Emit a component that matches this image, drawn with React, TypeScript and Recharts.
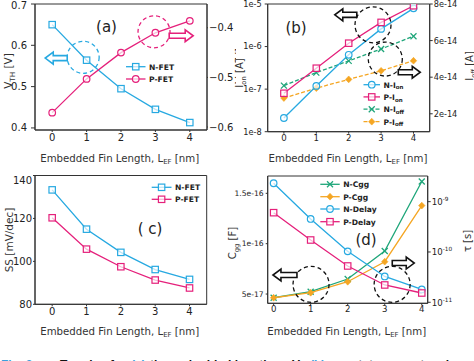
import React from 'react';
import { LineChart, Line, XAxis, YAxis, ReferenceDot, ReferenceArea } from 'recharts';

// ---------- data ----------
const LEF = [0, 1, 2, 3, 4];
const vthN = [0.65, 0.564, 0.495, 0.445, 0.413];
const vthP = [-0.571, -0.503, -0.45, -0.41, -0.386];
const ionN = [2.1e-8, 1.19e-7, 6.4e-7, 2.6e-6, 7.9e-6];
const ionP = [8e-8, 3.1e-7, 1.2e-6, 3.7e-6, 9.1e-6];
const ioffN = [3.54e-14, 4.25e-14, 4.89e-14, 5.54e-14, 6.24e-14];
const ioffP = [2.86e-14, 3.4e-14, 3.88e-14, 4.35e-14, 4.9e-14];
const ssN = [133.3, 115, 104.2, 96.2, 91.6];
const ssP = [120.3, 105.7, 97.5, 91.3, 87.6];
const cggN = [4.63e-17, 5.23e-17, 6.49e-17, 9.27e-17, 1.617e-16];
const cggP = [4.63e-17, 5.13e-17, 6.22e-17, 8.21e-17, 1.378e-16];
const delayN = [2.32e-9, 4.53e-10, 1.03e-10, 3.26e-11, 1.8e-11];
const delayP = [6.04e-10, 1.73e-10, 5.27e-11, 2.21e-11, 1.53e-11];

// tick values
const vthTicks = [0.4, 0.5, 0.6, 0.7];
const vthPTicks = [-0.6, -0.5, -0.4];
const ionTicks = [1e-8, 1e-7, 1e-6, 1e-5];
const ioffTicks = [2e-14, 4e-14, 6e-14, 8e-14];
const ssTicks = [80, 100, 120, 140];
const cggTicks = [5e-17, 1e-16, 1.5e-16];
const cggLabels = ['5e-17', '1e-16', '1.5e-16'];
const tauTicks = [1e-11, 1e-10, 1e-9];

const dataA = LEF.map((x, i) => ({ x, n: vthN[i], p: vthP[i] }));
const dataB = LEF.map((x, i) => ({ x, nOn: ionN[i], pOn: ionP[i], nOff: ioffN[i], pOff: ioffP[i] }));
const dataC = LEF.map((x, i) => ({ x, n: ssN[i], p: ssP[i] }));
const dataD = LEF.map((x, i) => ({ x, nC: cggN[i], pC: cggP[i], nD: delayN[i], pD: delayP[i] }));

// ---------- styles ----------
const FONT = 'DejaVu Sans, sans-serif';
const AX = '#333';
const TXT = '#222';
const CYAN = '#27a9e1';
const MAG = '#e5207b';
const GREEN = '#1fa67a';
const ORANGE = '#f5a623';

type Kind = 'sq' | 'ci' | 'x' | 'di';

function Marker({ kind, cx, cy, color }: { kind: Kind; cx: number; cy: number; color: string }) {
  if (kind === 'sq')
    return <rect x={cx - 3.2} y={cy - 3.2} width={6.4} height={6.4} fill="#fff" fillOpacity={0.7} stroke={color} strokeWidth={1.2} />;
  if (kind === 'ci') return <circle cx={cx} cy={cy} r={3.3} fill="#fff" fillOpacity={0.7} stroke={color} strokeWidth={1.2} />;
  if (kind === 'x')
    return (
      <g stroke={color} strokeWidth={1.3}>
        <line x1={cx - 3} y1={cy - 3} x2={cx + 3} y2={cy + 3} />
        <line x1={cx - 3} y1={cy + 3} x2={cx + 3} y2={cy - 3} />
      </g>
    );
  return <polygon points={`${cx},${cy - 3.4} ${cx + 3.2},${cy} ${cx},${cy + 3.4} ${cx - 3.2},${cy}`} fill={color} stroke={color} strokeWidth={0.6} />;
}

const dot = (kind: Kind, color: string) => (props: any) => {
  const { cx, cy, index } = props;
  const key = `${kind}-${color}-${index}`;
  if (cx == null || cy == null) return <g key={key} />;
  return (
    <g key={key}>
      <Marker kind={kind} cx={cx} cy={cy} color={color} />
    </g>
  );
};

const ring = (r: number, color: string) => (p: any) => (
  <circle cx={p.cx} cy={p.cy} r={r} fill="none" stroke={color} strokeWidth={1.3} strokeDasharray="4 3" />
);

const arrow = (dir: 'l' | 'r', color: string, L = 22, H = 12) => (p: any) => {
  const { cx, cy } = p;
  const head = 8;
  const h = H * 0.42;
  const s = dir === 'l' ? -1 : 1;
  const tip = cx + (s * L) / 2;
  const tail = cx - (s * L) / 2;
  const neck = tip - s * head;
  const d = `M${tail},${cy - h / 2} L${neck},${cy - h / 2} L${neck},${cy - H / 2} L${tip},${cy} L${neck},${cy + H / 2} L${neck},${cy + h / 2} L${tail},${cy + h / 2} Z`;
  return <path d={d} fill="#fff" stroke={color} strokeWidth={1.6} strokeLinejoin="miter" />;
};

const tickStyle = (fs: number) => ({ fontSize: fs, fill: TXT, fontFamily: FONT });
const minus = (s: string) => s.replace('-', '\u2212');

const TauTick = (props: any) => {
  const { x, y, payload } = props;
  const e = Math.round(Math.log10(payload.value));
  return (
    <text x={x} y={y} dy="0.4em" textAnchor="start" fontSize={8.6} fill={TXT} fontFamily={FONT}>
      10
      <tspan dy={-4} fontSize={5.8}>
        {e}
      </tspan>
    </text>
  );
};

// ---------- overlay helpers ----------
function LegendRow({ x1, x2, y, color, kind, dashed, main, sub }: any) {
  return (
    <g>
      <line x1={x1} x2={x2} y1={y} y2={y} stroke={color} strokeWidth={1.3} strokeDasharray={dashed ? '4 2' : undefined} />
      <Marker kind={kind} cx={(x1 + x2) / 2} cy={y} color={color} />
      <text x={x2 + 3.5} y={y + 2.8} fontSize={7.6} fontWeight="bold" fill={TXT} fontFamily={FONT}>
        {main}
        {sub ? (
          <tspan dy={1.8} fontSize={5.5}>
            {sub}
          </tspan>
        ) : null}
      </text>
    </g>
  );
}

function XTitle({ cx, y }: { cx: number; y: number }) {
  return (
    <text x={cx} y={y} textAnchor="middle" fontSize={10.2} fill="#333" fontFamily={FONT}>
      Embedded Fin Length, L<tspan dy={2} fontSize={7}>EF</tspan>
      <tspan dy={-2}> [nm]</tspan>
    </text>
  );
}

function YTitle({ x, y, main, sub, unit, fs = 10.5 }: any) {
  return (
    <text transform={`translate(${x},${y}) rotate(-90)`} textAnchor="middle" fontSize={fs} fill="#333" fontFamily={FONT}>
      {main}
      {sub ? (
        <tspan dy={2.5} fontSize={fs * 0.68}>
          {sub}
        </tspan>
      ) : null}
      <tspan dy={sub ? -2.5 : 0}> {unit}</tspan>
    </text>
  );
}

const legA = [
  { color: CYAN, kind: 'sq', main: 'N-FET', y: 66.7 },
  { color: MAG, kind: 'ci', main: 'P-FET', y: 79 },
];
const legB = [
  { color: CYAN, kind: 'ci', main: 'N-I', sub: 'on', y: 84.7 },
  { color: MAG, kind: 'sq', main: 'P-I', sub: 'on', y: 96.9 },
  { color: GREEN, kind: 'x', main: 'N-I', sub: 'off', y: 109.2, dashed: true },
  { color: ORANGE, kind: 'di', main: 'P-I', sub: 'off', y: 121.7, dashed: true },
];
const legC = [
  { color: CYAN, kind: 'sq', main: 'N-FET', y: 187.3 },
  { color: MAG, kind: 'sq', main: 'P-FET', y: 199.3 },
];
const legD = [
  { color: GREEN, kind: 'x', main: 'N-Cgg', y: 184.3 },
  { color: ORANGE, kind: 'di', main: 'P-Cgg', y: 196.7 },
  { color: CYAN, kind: 'ci', main: 'N-Delay', y: 209 },
  { color: MAG, kind: 'sq', main: 'P-Delay', y: 221.7 },
];

const xAxisCommon = {
  dataKey: 'x',
  type: 'number' as const,
  domain: [-0.5, 4.5],
  ticks: LEF,
  allowDataOverflow: true,
  stroke: AX,
  tickSize: 2,
  tickMargin: 2,
};

export default function App() {
  return (
    <div style={{ position: 'absolute', left: 0, top: 0, width: 474, height: 361, background: '#fff', overflow: 'hidden' }}>
      {/* (a) */}
      <div style={{ position: 'absolute', left: 0, top: 0 }}>
        <LineChart width={237} height={175} data={dataA} margin={{ top: 4, right: 0, bottom: 0, left: 0 }}>
          <XAxis xAxisId="b" {...xAxisCommon} height={45} tick={tickStyle(10)} />
          <YAxis yAxisId="l" type="number" domain={[0.395, 0.7]} ticks={vthTicks} allowDataOverflow width={35} stroke={AX} tick={tickStyle(10)} tickSize={4} tickMargin={4} tickFormatter={(v: number) => v.toFixed(1)} />
          <YAxis yAxisId="r" orientation="right" type="number" domain={[-0.606, -0.352]} ticks={vthPTicks} allowDataOverflow width={30} stroke={AX} tick={tickStyle(10)} tickSize={1} tickMargin={1} tickFormatter={(v: number) => minus(v.toFixed(1))} />
          <ReferenceArea xAxisId="b" yAxisId="l" x1={-0.5} x2={4.5} y1={0.395} y2={0.7} fill="none" stroke={AX} strokeWidth={1} />
          <ReferenceDot xAxisId="b" yAxisId="l" x={0.9} y={0.571} r={16} shape={ring(16, CYAN)} />
          <ReferenceDot xAxisId="b" yAxisId="l" x={0.117} y={0.569} r={10} shape={arrow('l', CYAN)} />
          <ReferenceDot xAxisId="b" yAxisId="r" x={2.96} y={-0.408} r={16} shape={ring(16, MAG)} />
          <ReferenceDot xAxisId="b" yAxisId="r" x={3.75} y={-0.416} r={10} shape={arrow('r', MAG, 24)} />
          <Line xAxisId="b" yAxisId="l" dataKey="n" stroke={CYAN} strokeWidth={1.3} dot={dot('sq', CYAN)} isAnimationActive={false} />
          <Line xAxisId="b" yAxisId="r" dataKey="p" stroke={MAG} strokeWidth={1.3} dot={dot('ci', MAG)} isAnimationActive={false} />
        </LineChart>
      </div>

      {/* (b) */}
      <div style={{ position: 'absolute', left: 230, top: 0 }}>
        <LineChart width={244} height={175} data={dataB} margin={{ top: 4, right: 0, bottom: 0, left: 0 }}>
          <XAxis xAxisId="b" {...xAxisCommon} height={43.3} tick={tickStyle(8.6)} tickMargin={1} />
          <YAxis yAxisId="l" type="number" scale="log" domain={[1e-8, 1e-5]} ticks={ionTicks} allowDataOverflow width={37.7} stroke={AX} tick={tickStyle(8.2)} tickSize={3} tickMargin={3} tickFormatter={(v: number) => `1e${Math.round(Math.log10(v))}`} />
          <YAxis yAxisId="r" orientation="right" type="number" domain={[1.02e-14, 8e-14]} ticks={ioffTicks} allowDataOverflow width={44.3} stroke={AX} tick={tickStyle(8.2)} tickSize={3} tickMargin={1} tickFormatter={(v: number) => `${Math.round(v * 1e14)}e-14`} />
          <ReferenceArea xAxisId="b" yAxisId="l" x1={-0.5} x2={4.5} y1={1e-8} y2={1e-5} fill="none" stroke={AX} strokeWidth={1} />
          <ReferenceDot xAxisId="b" yAxisId="l" x={2.75} y={Math.pow(10, -5.49)} r={18} shape={ring(18, '#111')} />
          <ReferenceDot xAxisId="b" yAxisId="l" x={1.91} y={Math.pow(10, -5.254)} r={10} shape={arrow('l', '#111', 22, 12)} />
          <ReferenceDot xAxisId="b" yAxisId="r" x={3.13} y={4.99e-14} r={17} shape={ring(17, '#111')} />
          <ReferenceDot xAxisId="b" yAxisId="r" x={3.87} y={4.27e-14} r={10} shape={arrow('r', '#111', 22, 12)} />
          <Line xAxisId="b" yAxisId="r" dataKey="nOff" stroke={GREEN} strokeWidth={1.3} strokeDasharray="4 2" dot={dot('x', GREEN)} isAnimationActive={false} />
          <Line xAxisId="b" yAxisId="r" dataKey="pOff" stroke={ORANGE} strokeWidth={1.3} strokeDasharray="4 2" dot={dot('di', ORANGE)} isAnimationActive={false} />
          <Line xAxisId="b" yAxisId="l" dataKey="nOn" stroke={CYAN} strokeWidth={1.3} dot={dot('ci', CYAN)} isAnimationActive={false} />
          <Line xAxisId="b" yAxisId="l" dataKey="pOn" stroke={MAG} strokeWidth={1.3} dot={dot('sq', MAG)} isAnimationActive={false} />
        </LineChart>
      </div>

      {/* (c) */}
      <div style={{ position: 'absolute', left: 0, top: 175 }}>
        <LineChart width={237} height={186} data={dataC} margin={{ top: 0.5, right: 30.3, bottom: 0, left: 0 }}>
          <XAxis xAxisId="b" {...xAxisCommon} height={56.7} tick={tickStyle(10)} />
          <YAxis yAxisId="l" type="number" domain={[80, 140]} ticks={ssTicks} allowDataOverflow width={35} stroke={AX} tick={tickStyle(10)} tickSize={2} tickMargin={1} />
          <ReferenceArea xAxisId="b" yAxisId="l" x1={-0.5} x2={4.5} y1={80} y2={140} fill="none" stroke={AX} strokeWidth={1} />
          <Line xAxisId="b" yAxisId="l" dataKey="n" stroke={CYAN} strokeWidth={1.3} dot={dot('sq', CYAN)} isAnimationActive={false} />
          <Line xAxisId="b" yAxisId="l" dataKey="p" stroke={MAG} strokeWidth={1.3} dot={dot('sq', MAG)} isAnimationActive={false} />
        </LineChart>
      </div>

      {/* (d) */}
      <div style={{ position: 'absolute', left: 230, top: 175 }}>
        <LineChart width={244} height={186} data={dataD} margin={{ top: 1, right: 0, bottom: 0, left: 0 }}>
          <XAxis xAxisId="b" {...xAxisCommon} domain={[-0.16, 4.16]} height={57.7} tick={tickStyle(8.6)} tickMargin={1} />
          <YAxis yAxisId="l" type="number" domain={[4.08e-17, 1.672e-16]} ticks={cggTicks} allowDataOverflow width={37.7} stroke={AX} tick={tickStyle(7.6)} tickSize={2} tickMargin={2} tickFormatter={(v: number) => cggLabels[cggTicks.indexOf(v)] ?? String(v)} />
          <YAxis yAxisId="r" orientation="right" type="number" scale="log" domain={[Math.pow(10, -11.02), Math.pow(10, -8.49)]} ticks={tauTicks} allowDataOverflow width={46.3} stroke={AX} tick={<TauTick />} tickSize={3} tickMargin={1} />
          <ReferenceArea xAxisId="b" yAxisId="l" x1={-0.16} x2={4.16} y1={4.08e-17} y2={1.672e-16} fill="none" stroke={AX} strokeWidth={1} />
          <ReferenceDot xAxisId="b" yAxisId="l" x={1.01} y={5.96e-17} r={18} shape={ring(18, '#111')} />
          <ReferenceDot xAxisId="b" yAxisId="l" x={0.306} y={6.89e-17} r={10} shape={arrow('l', '#111', 24, 12)} />
          <ReferenceDot xAxisId="b" yAxisId="l" x={3.2} y={5.96e-17} r={18} shape={ring(18, '#111')} />
          <ReferenceDot xAxisId="b" yAxisId="l" x={3.5} y={8.08e-17} r={10} shape={arrow('r', '#111', 22, 12)} />
          <Line xAxisId="b" yAxisId="l" dataKey="nC" stroke={GREEN} strokeWidth={1.3} dot={dot('x', GREEN)} isAnimationActive={false} />
          <Line xAxisId="b" yAxisId="l" dataKey="pC" stroke={ORANGE} strokeWidth={1.3} dot={dot('di', ORANGE)} isAnimationActive={false} />
          <Line xAxisId="b" yAxisId="r" dataKey="nD" stroke={CYAN} strokeWidth={1.3} dot={dot('ci', CYAN)} isAnimationActive={false} />
          <Line xAxisId="b" yAxisId="r" dataKey="pD" stroke={MAG} strokeWidth={1.3} dot={dot('sq', MAG)} isAnimationActive={false} />
        </LineChart>
      </div>

      {/* overlay text */}
      <svg width={474} height={361} style={{ position: 'absolute', left: 0, top: 0, pointerEvents: 'none' }}>
        <defs>
          <clipPath id="clipA">
            <rect x={0} y={0} width={236} height={175} />
          </clipPath>
        </defs>
        {/* panel letters */}
        <text x={106.5} y={32} textAnchor="middle" fontSize={15} fill={TXT} fontFamily={FONT}>(a)</text>
        <text x={296} y={32.5} textAnchor="middle" fontSize={15} fill={TXT} fontFamily={FONT}>(b)</text>
        <text x={150} y={233.5} textAnchor="middle" fontSize={15} fill={TXT} fontFamily={FONT}>( c)</text>
        <text x={366} y={245} textAnchor="middle" fontSize={15} fill={TXT} fontFamily={FONT}>(d)</text>

        {/* x titles */}
        <XTitle cx={119.7} y={162} />
        <XTitle cx={348} y={162} />
        <XTitle cx={119.7} y={334.5} />
        <XTitle cx={346.7} y={334.5} />

        {/* y titles */}
        <YTitle x={12} y={71} main="V" sub="TH" unit="[V]" />
        <g clipPath="url(#clipA)">
          <YTitle x={243} y={66} main="V" sub="TH" unit="[V]" />
        </g>
        <YTitle x={243} y={73} main="I" sub="on" unit="[A]" fs={10} />
        <YTitle x={473} y={66} main="I" sub="off" unit="[A]" fs={10} />
        <YTitle x={13} y={240} main="SS" unit="[mV/dec]" />
        <YTitle x={236} y={243} main="C" sub="gg" unit="[F]" fs={10} />
        <YTitle x={470.5} y={241} main="τ" unit="[s]" fs={10} />

        {/* legends */}
        {legA.map((r) => (
          <LegendRow key={r.main + r.y} x1={126} x2={145.5} {...r} />
        ))}
        {legB.map((r) => (
          <LegendRow key={r.main + r.y} x1={363.5} x2={380} {...r} />
        ))}
        {legC.map((r) => (
          <LegendRow key={r.main + r.y} x1={151.7} x2={171.5} {...r} />
        ))}
        {legD.map((r) => (
          <LegendRow key={r.main + r.y} x1={320.3} x2={339.7} {...r} />
        ))}

        {/* caption (cut off at the bottom edge, as in the reference) */}
        <text y={369} fontSize={12} fontFamily="Liberation Sans, sans-serif" fontWeight="bold" fill="#111">
          <tspan x={1} fill="#3c9fdc">Fig. 3.</tspan>
          <tspan x={60}>Trends of</tspan>
          <tspan x={131} fill="#3c9fdc">(a)</tspan>
          <tspan x={150}>the embedded length on V</tspan>
          <tspan x={310} fill="#3c9fdc">(b)</tspan>
          <tspan x={333}>on-state current and</tspan>
        </text>
      </svg>
    </div>
  );
}
